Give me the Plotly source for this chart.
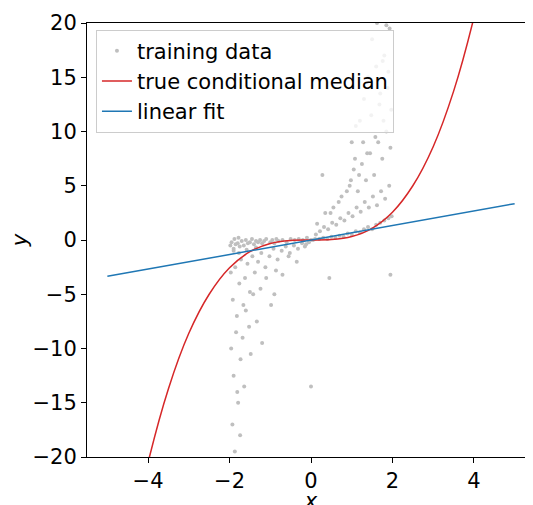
import plotly.graph_objects as go

# training data
train_x = [-1.98,-1.95,-1.9,-1.88,-1.85,-1.8,-1.78,-1.75,-1.7,-1.65,-1.6,-1.55,-1.5,-1.45,-1.4,-1.35,-1.3,-1.25,-1.2,-1.15,-1.1,-1.0,-0.95,-0.9,-0.85,-0.8,-0.7,-0.6,-0.5,-0.4,-0.3,-0.2,-0.1,0.0,
 -1.97,-1.92,-1.86,-1.82,-1.76,-1.72,-1.66,-1.62,-1.56,-1.5,-1.44,-1.38,-1.3,-1.22,-1.12,-1.02,-0.92,-0.82,-0.72,-0.62,-0.52,-0.42,-0.32,-0.22,-0.12,
 -1.96,-1.9,-1.84,-1.79,-1.73,-1.68,-1.6,-1.52,-1.42,-1.33,-1.24,-1.1,-0.98,-0.86,-0.7,-0.55,-0.35,-0.15,-1.93,-1.87,-1.81,-1.74,-1.64,-1.48,-1.2,-0.9,-1.9,-1.77,-1.58,-1.35,-0.05,
 0.05,0.1,0.2,0.3,0.4,0.5,0.6,0.7,0.8,0.9,1.0,1.1,1.2,1.3,1.4,1.5,1.6,1.7,1.8,1.9,1.98,
 0.12,0.22,0.32,0.42,0.52,0.62,0.72,0.82,0.92,1.02,1.12,1.22,1.32,1.42,1.52,1.62,1.72,1.82,1.92,
 0.15,0.35,0.55,0.75,0.95,1.05,1.15,1.25,1.35,1.45,1.55,1.65,1.75,1.85,1.95,1.97,1.88,1.78,1.68,1.58,1.48,1.38,1.28,1.18,1.08,0.98,0.88,0.68,0.48,0.28,
 1.9,1.8,1.7,1.6,1.5,1.4,1.3,1.2,1.1,1.0,0.0,0.45,1.93,1.85,1.76,1.62,1.95]
train_y = [-0.5,-0.2,-0.8,0.1,-0.4,-0.3,0.2,-0.6,-0.1,-0.5,0.0,-0.3,-0.2,0.1,-0.4,-0.1,-0.2,0.0,-0.3,-0.1,0.1,-0.2,0.0,-0.3,0.1,-0.1,0.0,-0.2,0.1,0.0,0.1,0.0,0.2,0.0,
 -3.0,-5.5,-2.5,-7.0,-4.0,-1.8,-6.0,-3.5,-2.2,-4.8,-1.5,-3.0,-2.0,-1.2,-2.5,-1.5,-0.8,-1.8,-1.0,-0.6,-1.2,-0.5,-0.8,-0.3,-0.4,
 -10.0,-12.5,-8.5,-15.0,-11.0,-9.0,-6.5,-8.0,-5.0,-7.5,-4.5,-3.5,-6.0,-2.8,-3.2,-1.5,-2.0,-0.6,-17.0,-19.5,-14.0,-18.0,-13.5,-10.5,-9.5,-5.0,-1.0,-1.2,-0.9,-0.7,-0.2,
 0.0,0.1,0.1,0.2,0.1,0.3,0.2,0.4,0.3,0.6,0.5,0.8,0.7,1.0,1.2,1.0,1.4,1.6,1.8,2.0,2.2,
 0.5,0.8,1.2,1.0,1.6,1.4,2.0,1.8,2.5,2.2,3.0,2.6,3.5,3.0,4.0,3.2,4.5,3.8,5.0,
 1.5,2.5,3.0,4.0,5.0,6.5,4.5,7.0,5.5,8.0,6.0,9.0,7.5,10.0,8.5,12.0,14.0,11.0,12.5,9.5,11.5,8.0,9.0,6.0,7.5,5.5,4.5,3.5,2.5,6.0,
 15.5,17.0,13.5,16.0,18.5,15.0,13.0,11.0,10.5,9.0,-13.5,-3.5,19.5,19.8,16.5,20.0,-3.2]

# true conditional median
median_x = [-5.0,-4.5,-4.0,-3.5,-3.0,-2.5,-2.0,-1.5,-1.0,-0.5,0.0,0.5,1.0,1.5,2.0,2.5,3.0,3.5,4.0,4.5,5.0]
median_y = [-40.0,-29.2,-20.5,-13.7,-8.6,-5.0,-2.56,-1.08,-0.32,-0.04,0.0,0.04,0.32,1.08,2.56,5.0,8.6,13.7,20.5,29.2,40.0]

# linear fit
fit_x = [-5.0, 5.0]
fit_y = [-3.35, 3.35]

fig = go.Figure()
fig.add_trace(go.Scatter(x=train_x, y=train_y, mode="markers", name="training data",
                         marker=dict(color="#bfbfbf", size=4)))
fig.add_trace(go.Scatter(x=median_x, y=median_y, mode="lines", name="true conditional median",
                         line=dict(color="#d62728", width=1.5, shape="spline")))
fig.add_trace(go.Scatter(x=fit_x, y=fit_y, mode="lines", name="linear fit",
                         line=dict(color="#1f77b4", width=1.5)))

ax = dict(showgrid=False, zeroline=False, showline=True, mirror=True, linecolor="black",
          ticks="outside", ticklen=5, tickcolor="black", tickfont=dict(size=21, color="black"),
          automargin=False)
fig.update_layout(
    width=533, height=505, margin=dict(l=79, r=6, t=15, b=56),
    plot_bgcolor="white", paper_bgcolor="white",
    font=dict(family="DejaVu Sans", color="black"),
    xaxis=dict(range=[-5.5, 5.5], tickvals=[-4, -2, 0, 2, 4], ticktext=["−4","−2","0","2","4"],
               title=dict(text="<i>x</i>", font=dict(size=21), standoff=0), **ax),
    yaxis=dict(range=[-20, 20], tickvals=[-20,-15,-10,-5,0,5,10,15,20],
               ticktext=["−20","−15","−10","−5","0","5","10","15","20"],
               title=dict(text="<i>y</i>", font=dict(size=21), standoff=4), **ax),
    legend=dict(x=0.02, y=0.985, xanchor="left", yanchor="top", font=dict(size=21),
                bgcolor="rgba(255,255,255,0.8)", bordercolor="#cccccc", borderwidth=1),
)
fig.write_html("out.html")
